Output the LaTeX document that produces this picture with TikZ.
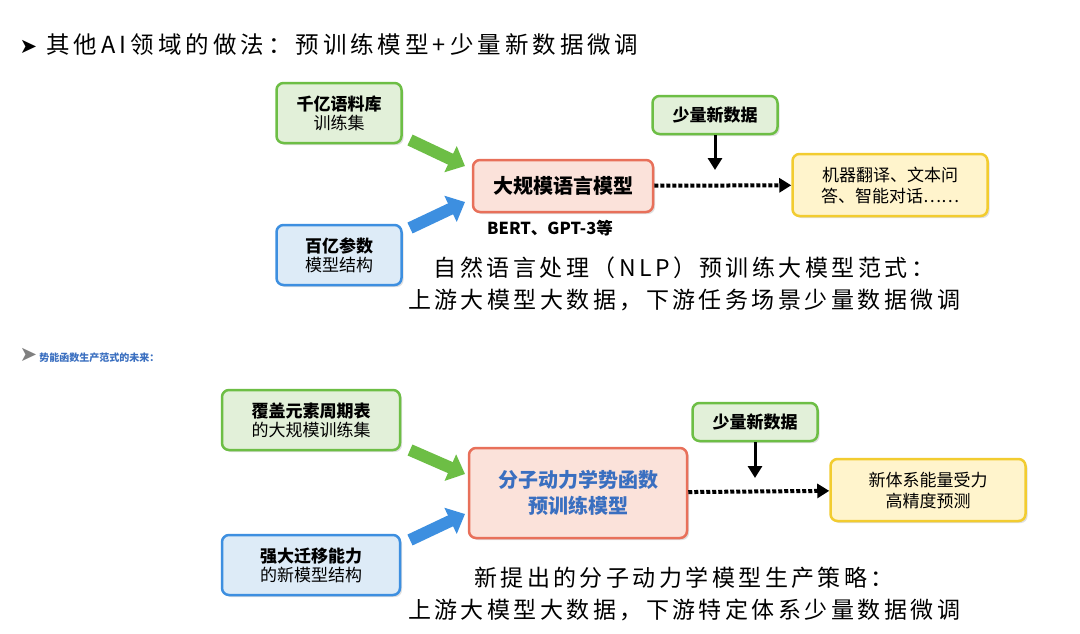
\documentclass[tikz,border=0pt]{standalone}
\usepackage{fontspec}
\setmainfont{Noto Sans CJK SC}
\newfontfamily\dejavu{DejaVu Sans}
\newcommand{\arr}{{\dejavu\char"27A4}}
\usetikzlibrary{arrows.meta,shadows}
\definecolor{gfill}{HTML}{E2F0D9}\definecolor{gline}{HTML}{6DBE45}
\definecolor{bfill}{HTML}{DDEBF7}\definecolor{bline}{HTML}{3D8FE0}
\definecolor{rfill}{HTML}{FBE2DA}\definecolor{rline}{HTML}{E8705A}
\definecolor{yfill}{HTML}{FFF4CC}\definecolor{yline}{HTML}{F2CC30}
\definecolor{tblue}{HTML}{3A6FC0}
\begin{document}
\begin{tikzpicture}[x=1pt,y=-1pt,
  box/.style={draw,line width=2.5pt,rounded corners=7pt,align=center,font=\fontsize{17}{21}\selectfont,
    drop shadow={opacity=0.25,shadow xshift=2pt,shadow yshift=-2pt}},
  gbox/.style={box,fill=gfill,draw=gline,font=\fontsize{17}{21}\selectfont\bfseries},
  bbox/.style={box,fill=bfill,draw=bline},
  rbox/.style={box,fill=rfill,draw=rline},
  ybox/.style={box,fill=yfill,draw=yline},
  blk/.style={line width=12pt,-{Triangle[length=16pt,width=28pt]}},
  dots/.style={line width=4pt,dotted,-{Triangle[length=12pt,width=14pt]}},
  down/.style={line width=3pt,-{Triangle[length=12pt,width=14pt]}},
  note/.style={align=center,font=\fontsize{23}{32}\selectfont\addfontfeature{LetterSpace=15}},
  title/.style={anchor=west,font=\fontsize{23.5}{28}\selectfont\addfontfeature{LetterSpace=17}}]
\useasboundingbox[fill=white] (0,0) rectangle (1080,633);
% part 1
\node[title] (t1) at (16,45) {{\fontsize{21}{22}\selectfont\arr}\ 其他AI领域的做法：预训练模型+少量新数据微调};
\node[gbox,minimum width=125pt,minimum height=60pt] (g1) at (339,113) {千亿语料库\\[-2pt]\mdseries 训练集};
\node[bbox,minimum width=125pt,minimum height=60pt] (b1) at (339,255) {\bfseries 百亿参数\\[-2pt]模型结构};
\node[rbox,minimum width=180pt,minimum height=52pt,font=\fontsize{20}{24}\selectfont\bfseries] (r1) at (563,186) {大规模语言模型};
\node[font=\fontsize{16.5}{20}\selectfont\bfseries] (bert) at (550,228) {BERT、GPT-3等};
\node[gbox,minimum width=125pt,minimum height=38pt] (s1) at (715,115) {少量新数据};
\node[ybox,minimum width=195pt,minimum height=62pt] (y1) at (890,185) {机器翻译、文本问\\答、智能对话……};
\coordinate (ga1) at (410,140); \coordinate (gb1) at (465,166);
\coordinate (ba1) at (410,228); \coordinate (bb1) at (465,202);
\draw[blk,draw=gline] (ga1) -- (gb1);
\draw[blk,draw=bline] (ba1) -- (bb1);
\coordinate (d1) at (715,170);
\draw[down] (s1) -- (d1);
\draw[dots] (r1) -- (y1);
\node[note] (n1) at (684,284) {自然语言处理（NLP）预训练大模型范式：\\上游大模型大数据，下游任务场景少量数据微调};
% part 2
\node[title,font=\bfseries,text=tblue] (t2) at (16,355) {{\fontsize{21}{22}\selectfont\mdseries\color{gray}\arr}\ 势能函数生产范式的未来：};
\node[gbox,minimum width=178pt,minimum height=60pt] (g2) at (311,420) {覆盖元素周期表\\[-2pt]\mdseries 的大规模训练集};
\node[bbox,minimum width=178pt,minimum height=60pt] (b2) at (311,565) {\bfseries 强大迁移能力\\[-2pt]的新模型结构};
\node[rbox,minimum width=218pt,minimum height=90pt,font=\fontsize{20}{26}\selectfont\bfseries,text=tblue] (r2) at (578,493) {分子动力学势函数\\预训练模型};
\node[gbox,minimum width=125pt,minimum height=38pt] (s2) at (755,422) {少量新数据};
\node[ybox,minimum width=195pt,minimum height=62pt] (y2) at (928,490) {新体系能量受力\\高精度预测};
\coordinate (ga2) at (410,450); \coordinate (gb2) at (465,474);
\coordinate (ba2) at (410,540); \coordinate (bb2) at (465,514);
\draw[blk,draw=gline] (ga2) -- (gb2);
\draw[blk,draw=bline] (ba2) -- (bb2);
\coordinate (d2) at (755,478);
\draw[down] (s2) -- (d2);
\draw[dots] (r2) -- (y2);
\node[note] (n2) at (684,594) {新提出的分子动力学模型生产策略：\\上游大模型大数据，下游特定体系少量数据微调};
\end{tikzpicture}
\end{document}
